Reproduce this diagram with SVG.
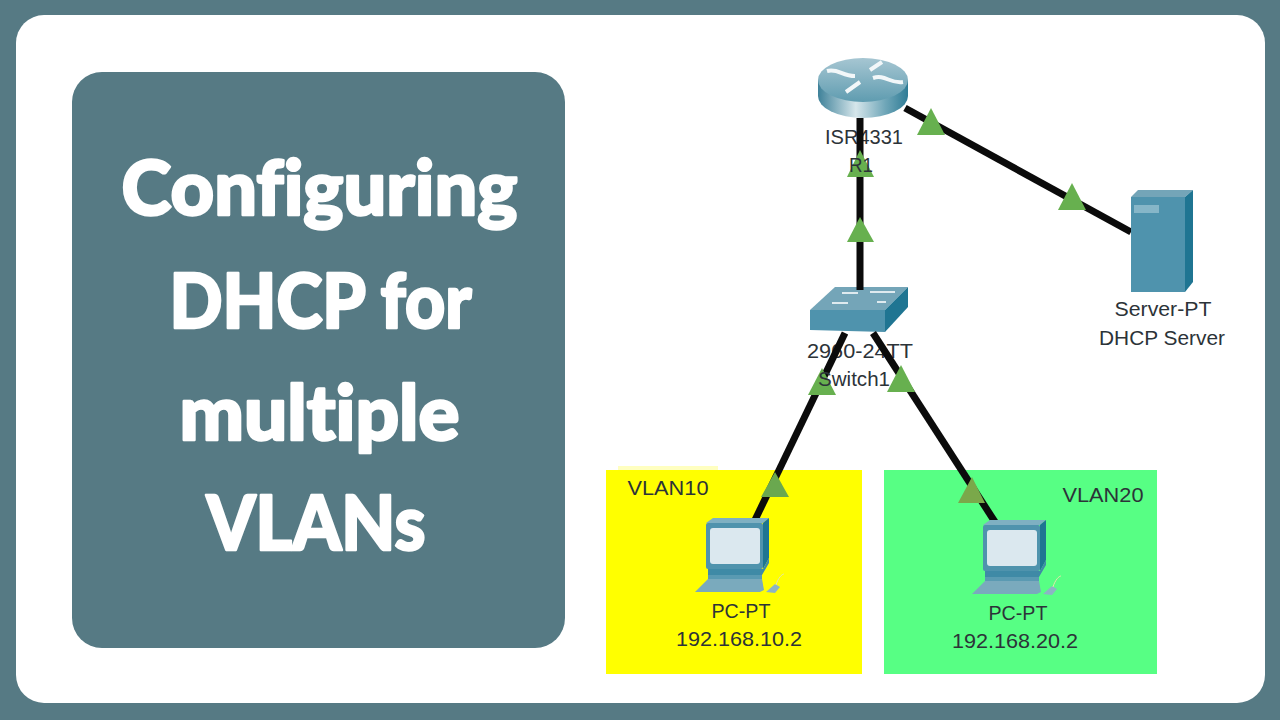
<svg xmlns="http://www.w3.org/2000/svg" width="1280" height="720" viewBox="0 0 1280 720">
<style>
.t{font-family:"Lato","Noto Sans",sans-serif;font-weight:900;font-size:76px;fill:#fff;stroke:#fff;stroke-width:2.5px;stroke-linejoin:round;text-anchor:middle;font-variant-ligatures:none}
.l{font-family:"Liberation Sans",Arial,sans-serif;font-size:20.5px;fill:#2c3338;text-anchor:middle}
.c{stroke:#0b0b0b;stroke-width:7;fill:none}
.g{fill:#67b04f}
.top{fill:#74a5b8}.front{fill:#4f93ad}.side{fill:#1f7592}
</style>
<defs>
<linearGradient id="rb" x1="0" x2="1" y1="0" y2="0"><stop offset="0" stop-color="#3e8199"/><stop offset=".42" stop-color="#d6e6eb"/><stop offset=".75" stop-color="#6fa6b8"/><stop offset="1" stop-color="#2f7c96"/></linearGradient>
<linearGradient id="rt" x1="0" x2="0" y1="0" y2="1"><stop offset="0" stop-color="#a6c6d2"/><stop offset="1" stop-color="#5f9cb0"/></linearGradient>
<g id="pc">
<polygon points="706,523 713,518 769,518 763,523" fill="#7fb0c2"/>
<rect x="706" y="523" width="57" height="46" rx="2" fill="#4f93ad"/>
<polygon points="763,523 769,518 769,558 763,569" fill="#1f7592"/>
<rect x="710" y="528" width="50" height="36" rx="3" fill="#dbe8ef"/>
<polygon points="708,569 763,569 769,558 769,563 762,575 708,575" fill="#3f8aa6"/>
<rect x="708" y="575" width="54" height="6" fill="#5a9ab2"/>
<polygon points="695,592 708,579 762,579 764,590 760,592" fill="#7aaabd"/>
<polygon points="766,592 775,584 780,587 775,593" fill="#8cb4c4"/>
<path d="M776,585 C778,578 782,574 784,574" stroke="#e3e6a8" stroke-width="1" fill="none"/>
</g>
</defs>
<rect width="1280" height="720" fill="#567a84"/>
<rect x="16" y="15" width="1249" height="688" rx="28" fill="#fff"/>
<rect x="72" y="72" width="493" height="576" rx="30" fill="#567a84"/>
<g id="title">
<text class="t" x="319.500" y="215" textLength="396" lengthAdjust="spacingAndGlyphs">Configuring</text>
<text class="t" x="320.500" y="328" textLength="302" lengthAdjust="spacingAndGlyphs">DHCP for</text>
<text class="t" x="319.500" y="440" textLength="280" lengthAdjust="spacingAndGlyphs">multiple</text>
<text class="t" x="316" y="550" textLength="219" lengthAdjust="spacingAndGlyphs">VLANs</text>
</g>
<g id="vlan10"><rect x="618" y="466" width="100" height="5" fill="#ffffc0"/><rect x="606" y="470" width="256" height="204" fill="#ffff00"/><text class="l" x="668" y="495" textLength="81" lengthAdjust="spacingAndGlyphs">VLAN10</text></g>
<g id="vlan20"><rect x="884" y="470" width="273" height="204" fill="#57ff84"/><text class="l" x="1103" y="502" textLength="81" lengthAdjust="spacingAndGlyphs">VLAN20</text></g>
<g id="router"><path d="M818,80 V96 A45,22 0 0 0 908,96 V80 Z" fill="url(#rb)"/><ellipse cx="863" cy="80" rx="45" ry="22" fill="url(#rt)"/>
<path d="M827,71 C838,68 842,76 855,76 M870,70 L882,62 M873,78 C885,74 890,84 903,82 M846,92 L860,82" stroke="#f2f7f9" stroke-width="4" fill="none"/><text class="l" x="864" y="144" textLength="78" lengthAdjust="spacingAndGlyphs">ISR4331</text></g>
<g id="switch"><polygon class="top" points="810,310 835,287 908,287 885,310"/><polygon class="front" points="810,310 885,310 885,332 810,330"/><polygon class="side" points="885,310 908,287 908,307 885,332"/>
<path d="M842,293 H858 M870,292 H895 M832,303 H848 M877,302 H886" stroke="#dfeaef" stroke-width="2"/><text class="l" x="860" y="358" textLength="106" lengthAdjust="spacingAndGlyphs">2960-24TT</text></g>
<g id="connectors">
<path class="c" d="M860,118 V290"/><path class="c" d="M905,108 L1131,232"/><path class="c" d="M845,333 L755,520"/><path class="c" d="M873,333 L995,522"/>
<polygon class="g" points="931,108 917,135 945,135"/><polygon class="g" points="1072,183 1058,210 1086,210"/>
<polygon class="g" points="860,150 847,177 874,177"/><polygon class="g" points="860,217 847,242 874,242"/>
<polygon class="g" points="822,368 808,395 836,395"/><polygon class="g" points="901,365 887,392 915,392"/>
<polygon points="775,472 761,497 789,497" fill="#6aa84f"/><polygon points="972,477 958,503 985,503" fill="#7aa84a"/>
</g>
<g id="router-name"><text class="l" x="861" y="172" textLength="24" lengthAdjust="spacingAndGlyphs">R1</text></g>
<g id="switch-name"><text class="l" x="854" y="386" textLength="72" lengthAdjust="spacingAndGlyphs">Switch1</text></g>
<g id="server"><polygon class="top" points="1131,197 1138,190 1193,190 1185,197"/><rect class="front" x="1131" y="197" width="54" height="95"/><polygon class="side" points="1185,197 1193,190 1193,282 1185,292"/><rect x="1134" y="205" width="25" height="8" fill="#86b6c8"/>
<text class="l" x="1163" y="316" textLength="97" lengthAdjust="spacingAndGlyphs">Server-PT</text><text class="l" x="1162" y="345" textLength="126" lengthAdjust="spacingAndGlyphs">DHCP Server</text></g>
<g id="pc1"><use href="#pc"/><text class="l" x="741" y="618" textLength="59" lengthAdjust="spacingAndGlyphs">PC-PT</text><text class="l" x="739" y="646" textLength="126" lengthAdjust="spacingAndGlyphs">192.168.10.2</text></g>
<g id="pc2"><use href="#pc" x="277" y="2"/><text class="l" x="1018" y="620" textLength="59" lengthAdjust="spacingAndGlyphs">PC-PT</text><text class="l" x="1015" y="648" textLength="126" lengthAdjust="spacingAndGlyphs">192.168.20.2</text></g>
</svg>
